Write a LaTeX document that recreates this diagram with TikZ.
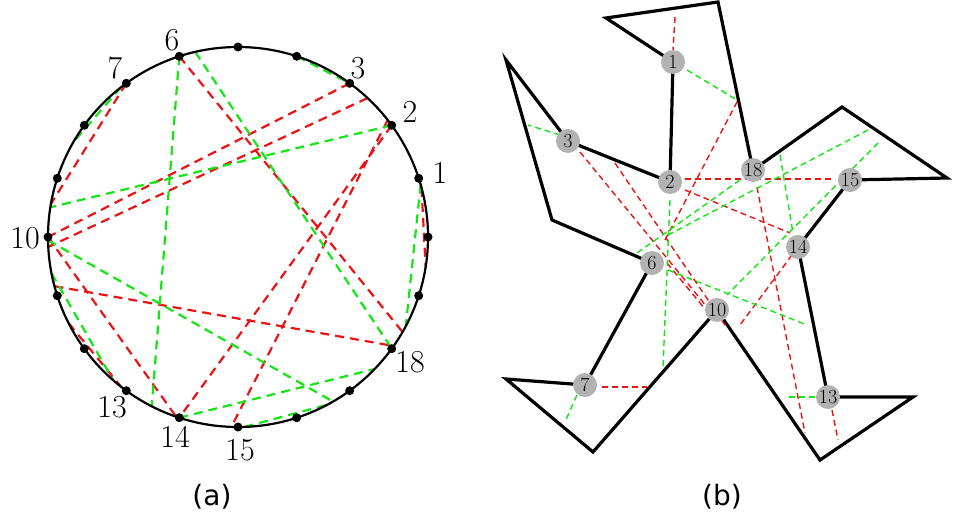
\documentclass[tikz,border=0pt]{standalone}
\usepackage{fontspec}
\newfontfamily\lblfont{DejaVu Sans}
\usetikzlibrary{calc}
\definecolor{gr}{RGB}{20,230,20}
\definecolor{rd}{RGB}{235,20,20}
\begin{document}
\begin{tikzpicture}[x=1pt,y=-1pt,
  rdl/.style={rd,dashed,line width=2.2pt,dash pattern=on 9pt off 6pt},
  grl/.style={gr,dashed,line width=2.2pt,dash pattern=on 9pt off 6pt},
  rds/.style={rd,line width=1.4pt,dash pattern=on 6pt off 4pt},
  grs/.style={gr,line width=1.4pt,dash pattern=on 6pt off 4pt},
  dotp/.style={circle,fill=black,inner sep=0pt,minimum size=9pt},
  vnode/.style={circle,fill=black!30,inner sep=0pt,minimum size=24pt,font=\fontsize{20}{20}\selectfont},
  clab/.style={font=\fontsize{32}{32}\selectfont},
  sub/.style={font=\lblfont\fontsize{28}{28}\selectfont}]
\useasboundingbox (0,0) rectangle (960,527);
\coordinate (C) at (238,237);
% left chords
\foreach \a/\b in {108/330,54/180,47/183,36/252,38/268,126/170,195/325,180/251,207/232,15/351}
  \draw[rdl] ($(C)+(\a:190pt)$) -- ($(C)+(\b:190pt)$);
\foreach \a/\b in {108/243,103/324,36/171,181/300,252/316,272/298,16/332,72/54,128/150,191/229}
  \draw[grl] ($(C)+(\a:190pt)$) -- ($(C)+(\b:190pt)$);
\draw[line width=2.2pt] (C) circle (190pt);
\foreach \k in {1,...,20} \node[dotp] (p\k) at ($(C)+(18*\k:190pt)$) {};
\node[clab] (l6) at (172,40) {6};
\node[clab] (l7) at (115,68) {7};
\node[clab] (l3) at (358,68) {3};
\node[clab] (l2) at (410,112) {2};
\node[clab] (l1) at (440,173) {1};
\node[clab] (l10) at (25,238) {10};
\node[clab] (l18) at (410,362) {18};
\node[clab] (l13) at (112,407) {13};
\node[clab] (l14) at (175,437) {14};
\node[clab] (l15) at (240,450) {15};
\node[sub] (sa) at (212,497) {(a)};
\node[sub] (sb) at (722,497) {(b)};
% right figure
\coordinate (n1) at (673,62);
\coordinate (n2) at (670,182);
\coordinate (n3) at (568,141);
\coordinate (n6) at (652,263);
\coordinate (n7) at (585,385);
\coordinate (n10) at (717,310);
\coordinate (n13) at (828,397);
\coordinate (n14) at (798,247);
\coordinate (n15) at (850,180);
\coordinate (n18) at (753,170);
\draw[line width=3.2pt,line join=miter] (606,18) -- (718,2) -- (n18) -- (842,107) -- (947,178) -- (n15) -- (n14) -- (n13) -- (913,397) -- (820,460) -- (n10) -- (593,452) -- (506,379) -- (n7) -- (n6) -- (552,220) -- (506,60) -- (n3) -- (n2) -- (n1) -- cycle;
\foreach \p/\q in {{675,17}/{673,50},{685,179}/{835,179},{685,190}/{790,233},{580,152}/{707,307},{615,163}/{727,328},{665,240}/{738,100},{757,187}/{805,433},{792,255}/{740,325},{602,387}/{647,387},{832,410}/{838,440},{667,263}/{710,315}}
  \draw[rds] (\p) -- (\q);
\foreach \p/\q in {{687,70}/{737,100},{560,135}/{528,125},{670,200}/{663,367},{740,180}/{637,253},{868,130}/{668,235},{878,143}/{727,295},{780,155}/{793,233},{668,270}/{807,325},{815,397}/{785,397},{577,395}/{565,422}}
  \draw[grs] (\p) -- (\q);
\foreach \n in {1,2,3,6,7,10,13,14,15,18} \node[vnode] (v\n) at (n\n) {\n};
\end{tikzpicture}
\end{document}
